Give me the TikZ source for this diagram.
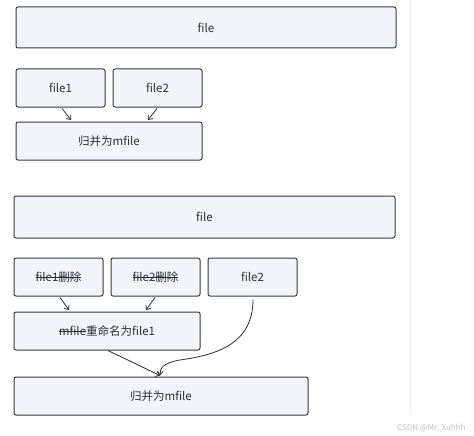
\documentclass[tikz,border=0pt]{standalone}
\usepackage{fontspec}
\setmainfont{Noto Sans CJK SC}
\usetikzlibrary{arrows.meta}
\newcommand\stk[1]{\setbox0\hbox{#1}\rlap{\rule[0.3em]{\wd0}{0.07em}}\box0}
\definecolor{boxfill}{HTML}{F2F4FA}
\definecolor{boxline}{HTML}{3A3A3A}
\definecolor{txt}{HTML}{2E2E2E}
\tikzset{
  box/.style={draw=boxline, fill=boxfill, rounded corners=2pt, line width=1pt,
    inner sep=0pt, font=\fontsize{11.5}{13}\selectfont, text=txt},
  arr/.style={draw=txt, line width=0.8pt, -{Straight Barb[length=3.5pt,width=6pt]}}
}
\begin{document}
\begin{tikzpicture}[x=1pt,y=-1pt]
\useasboundingbox (0,0) rectangle (474,436);
\draw[color=black!6, line width=0.8pt] (410,0) -- (410,414);
% top part
\node[box, minimum width=380pt, minimum height=41pt] (top) at (206,27.5) {file};
\node[box, minimum width=89pt, minimum height=38pt] (f1) at (60.5,88) {file1};
\node[box, minimum width=89pt, minimum height=38pt] (f2) at (157.5,88) {file2};
\node[box, minimum width=186pt, minimum height=38pt] (m1) at (109,141) {归并为mfile};
\draw[arr] ([xshift=1.5pt,yshift=-1pt]f1.south) -- ([xshift=-38pt,yshift=1.5pt]m1.north);
\draw[arr] ([xshift=-0.5pt,yshift=-1pt]f2.south) -- ([xshift=39pt,yshift=1.5pt]m1.north);
% bottom part
\node[box, minimum width=381pt, minimum height=42pt] (bot) at (204.5,217) {file};
\node[box, minimum width=89pt, minimum height=38pt] (d1) at (58.5,277) {\stk{file1删除}};
\node[box, minimum width=89pt, minimum height=38pt] (d2) at (155.5,277) {\stk{file2删除}};
\node[box, minimum width=89pt, minimum height=38pt] (g2) at (252.5,277) {file2};
\node[box, minimum width=186pt, minimum height=38pt] (ren) at (107,331) {\stk{mfile}重命名为file1};
\node[box, minimum width=294pt, minimum height=38pt] (m2) at (161,396) {归并为mfile};
\draw[arr] ([xshift=1.5pt,yshift=-1pt]d1.south) -- ([xshift=-38pt,yshift=1.5pt]ren.north);
\draw[arr] ([xshift=-0.5pt,yshift=-1pt]d2.south) -- ([xshift=39pt,yshift=1.5pt]ren.north);
\coordinate (tip) at ([xshift=-1pt,yshift=1pt]m2.north);
\draw[arr] ([xshift=1pt]ren.south) -- (tip);
\draw[arr] ([xshift=0.5pt,yshift=-3pt]g2.south) .. controls (253,345) and (215,355) .. (180,360) .. controls (163,363) and (160,368) .. (tip);
\node[anchor=west, text=black!25, font=\fontsize{8}{9}\selectfont, inner sep=0pt] (wm) at (397,428) {CSDN @Mr\_Xuhhh};
\end{tikzpicture}
\end{document}
